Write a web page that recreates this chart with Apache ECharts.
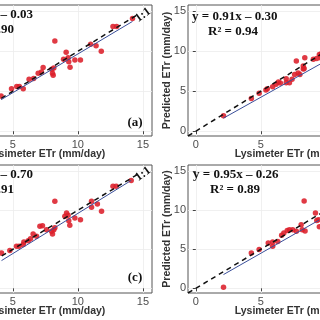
<!DOCTYPE html>
<html lang="en">
  <head>
    <meta charset="UTF-8" />
    <title>ETr scatter</title>
    <script src="https://cdn.jsdelivr.net/npm/echarts@6/dist/echarts.min.js"></script>
    <style>
      html, body { margin: 0; padding: 0; background: #fff; }
    </style>
  </head>

  <body>
    <div id="main" style="width: 320px; height: 320px"></div>

    <script>
      // lysimeter (x) vs predicted (y) for the four panels
      var dataA = [
        [4.1, 4.4], [4.9, 5.3], [5.3, 5.6], [5.5, 5.6], [5.8, 5.3], [6.25, 6.5],
        [6.6, 6.6], [6.95, 7.25], [7.2, 7.4], [7.33, 7.96], [8.0, 7.75], [8.05, 7.25],
        [8.1, 7.0], [8.15, 7.9], [8.23, 11.3], [8.9, 9.0], [9.1, 9.9], [9.25, 9.2],
        [9.3, 8.7], [9.4, 8.0], [9.77, 8.9], [10.2, 8.9], [10.98, 10.9], [11.4, 10.7],
        [11.8, 10.0], [12.7, 13.1], [12.98, 13.1], [14.2, 14.1]
      ];
      var dataB = [
        [2.13, 1.92], [4.27, 4.1], [4.87, 4.75], [5.39, 5.17], [5.5, 5.3], [5.91, 5.58],
        [6.17, 5.87], [6.35, 6.17], [6.5, 6.05], [6.95, 6.58], [6.95, 6.08], [7.2, 6.08],
        [7.4, 6.5], [7.6, 7.1], [7.87, 7.3], [8.0, 7.1], [7.73, 8.8], [8.26, 8.17],
        [8.38, 9.2], [8.26, 7.8], [8.33, 7.85], [9.04, 9.0], [9.3, 9.1], [9.5, 9.6],
        [9.65, 9.7], [9.65, 9.15]
      ];
      var dataC = [
        [4.13, 4.53], [4.77, 4.83], [5.28, 5.38], [5.48, 5.38], [5.8, 5.6], [5.85, 5.95],
        [6.18, 6.1], [6.36, 6.35], [6.56, 6.96], [6.82, 6.67], [7.08, 7.95], [7.28, 8.03],
        [7.59, 7.5], [7.98, 7.3], [8.05, 6.96], [8.15, 7.5], [8.23, 11.15], [8.23, 7.75],
        [9.0, 9.23], [9.13, 9.66], [9.25, 9.35], [9.3, 8.65], [9.38, 8.08], [9.77, 9.0],
        [10.2, 8.8], [11.05, 11.15], [11.05, 10.38], [11.5, 10.8], [11.82, 9.87],
        [12.7, 13.08], [12.95, 13.08], [14.1, 13.8]
      ];
      var dataD = [
        [2.13, 0.13], [4.27, 4.53], [4.87, 4.96], [5.57, 5.81], [5.91, 5.38], [5.91, 5.95],
        [6.3, 6.0], [6.6, 6.8], [6.77, 7.09], [7.03, 7.4], [7.2, 7.5], [7.45, 7.5],
        [7.73, 7.3], [8.1, 8.16], [8.18, 7.5], [8.4, 7.35], [8.33, 11.2], [9.2, 9.65],
        [9.43, 8.8], [9.3, 8.7], [9.5, 7.9]
      ];

      // fitted lines [slope, intercept] and labels
      var fitA = [0.97, -0.03];
      var fitB = [0.91, -0.30];
      var fitC = [1.03, -0.70];
      var fitD = [0.95, -0.26];
      var eqA = ["y = 0.97x \u2013 0.03", "R\u00b2 = 0.90"];
      var eqB = ["y = 0.91x \u2013 0.30", "R\u00b2 = 0.94"];
      var eqC = ["y = 1.03x \u2013 0.70", "R\u00b2 = 0.91"];
      var eqD = ["y = 0.95x \u2013 0.26", "R\u00b2 = 0.89"];
      var tickValues = [0, 5, 10, 15];
      var oneToOne = [[-0.6, -0.6], [14.6, 14.6]];

      var myChart = echarts.init(document.getElementById("main"));

      function fitLine(data, fit) {
        var xs = data.map(function (d) { return d[0]; });
        var lo = Math.min.apply(null, xs), hi = Math.max.apply(null, xs);
        return [[lo, fit[0] * lo + fit[1]], [hi, fit[0] * hi + fit[1]]];
      }

      var grids = [
        { left: -60, top: 5, width: 212, height: 131 },
        { left: 188, top: 5, width: 212, height: 131 },
        { left: -60, top: 165, width: 212, height: 128 },
        { left: 188, top: 165, width: 212, height: 128 }
      ];
      grids.forEach(function (g) {
        g.show = true;
        g.borderColor = "#555";
        g.borderWidth = 1;
        g.backgroundColor = "#fff";
        g.containLabel = false;
        g.outerBoundsMode = "none";
      });

      function axis(idx, isX) {
        return {
          type: "value",
          gridIndex: idx,
          min: -0.6,
          max: isX ? 15.7 : 15.8,
          axisLine: { show: false },
          axisTick: { show: true, length: 3, customValues: tickValues, lineStyle: { color: "#444" } },
          axisLabel: {
            customValues: tickValues,
            color: "#4d4d4d",
            fontSize: 11,
            fontFamily: "Liberation Sans",
            margin: isX ? 3 : 2
          },
          splitLine: { show: true, customValues: tickValues, lineStyle: { color: "#ececec", width: 0.8 } },
          name: isX ? "Lysimeter ETr (mm/day)" : "Predicted ETr (mm/day)",
          nameLocation: "middle",
          nameMoveOverlap: false,
          nameGap: isX ? 13 : 15,
          nameTextStyle: { fontSize: 10.5, fontWeight: "bold", color: "#333", fontFamily: "Liberation Sans" }
        };
      }

      var xAxes = [], yAxes = [], series = [];
      var sets = [dataA, dataB, dataC, dataD];
      var fits = [fitA, fitB, fitC, fitD];
      for (var i = 0; i < 4; i++) {
        xAxes.push(axis(i, true));
        yAxes.push(axis(i, false));
        series.push({
          type: "scatter", xAxisIndex: i, yAxisIndex: i, data: sets[i],
          symbolSize: 5.5, itemStyle: { color: "#dc1f2a", opacity: 0.88 }, z: 3
        });
        series.push({
          type: "line", xAxisIndex: i, yAxisIndex: i, data: oneToOne, symbol: "none",
          lineStyle: { color: "#111", width: 1.5, type: [5, 4] }, z: 4
        });
        series.push({
          type: "line", xAxisIndex: i, yAxisIndex: i, data: fitLine(sets[i], fits[i]), symbol: "none",
          lineStyle: { color: "#3a4f9a", width: 1 }, z: 4
        });
      }

      var serif = "Liberation Serif";
      function txt(x, y, s, align, size) {
        return {
          type: "text", x: x, y: y, z: 10,
          style: { text: s, align: align, verticalAlign: "middle", fontSize: size || 13,
                   fontWeight: "bold", fontFamily: serif, fill: "#111" }
        };
      }
      var graphics = [
        txt(33, 15, eqA[0], "right"), txt(14, 30, eqA[1], "right"),
        txt(192, 17, eqB[0], "left"), txt(208, 32, eqB[1], "left"),
        txt(33, 175, eqC[0], "right"), txt(14, 190, eqC[1], "right"),
        txt(193, 175, eqD[0], "left"), txt(210, 190, eqD[1], "left"),
        txt(135, 123, "(a)", "center"), txt(135, 278, "(c)", "center"),
        { type: "text", x: 143, y: 15, rotation: Math.PI / 5, z: 10,
          style: { text: "1:1", align: "center", verticalAlign: "middle", fontSize: 12,
                   fontWeight: "bold", fontFamily: serif, fill: "#111" } },
        { type: "text", x: 143, y: 174, rotation: Math.PI / 5, z: 10,
          style: { text: "1:1", align: "center", verticalAlign: "middle", fontSize: 12,
                   fontWeight: "bold", fontFamily: serif, fill: "#111" } }
      ];

      myChart.setOption({
        animation: false,
        backgroundColor: "#fff",
        grid: grids,
        xAxis: xAxes,
        yAxis: yAxes,
        series: series,
        graphic: graphics
      });
    </script>
  </body>
</html>
